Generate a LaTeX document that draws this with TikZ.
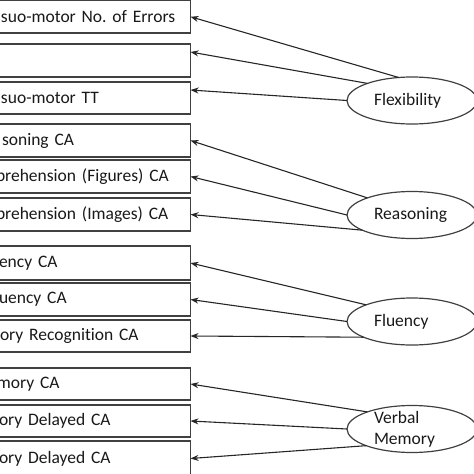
\documentclass[tikz,border=0pt]{standalone}
\usepackage{fontspec}
\setmainfont{Carlito}[Ligatures=NoCommon]
\frenchspacing
\usetikzlibrary{shapes.geometric,arrows.meta}
\tikzset{vbox/.style={draw=black!75,line width=1.3pt,fill=white,inner xsep=12pt,inner ysep=0pt,outer sep=0pt,align=left,anchor=north east,text=black!90,font=\fontsize{17.5}{21}\selectfont}}
\tikzset{factor/.style={draw=black!75,line width=1.2pt,ellipse,inner sep=0pt,outer sep=0pt,minimum width=130pt,minimum height=47pt,text width=76pt,align=left,text=black!90,font=\fontsize{17.5}{21}\selectfont}}
\tikzset{link/.style={draw=black!85,line width=1.1pt,-{Stealth[length=8pt,width=6pt]}}}

\begin{document}
\begin{tikzpicture}[x=1pt,y=-1pt]
  \useasboundingbox (0,0) rectangle (474,474);
  \clip (0,0) rectangle (474,474);

  % observed measures
  \foreach \name/\ytop/\ybot/\xs/\txt in {
      b1/0.5/33/1/{suo-motor No. of Errors},
      b2/44/77/1/{},
      b3/82/114/1/{suo-motor TT},
      b4/124/157/2/{soning CA},
      b5/160/193/-4/{prehension (Figures) CA},
      b6/198/231/-4/{prehension (Images) CA},
      b7/246/280/-1/{ency CA},
      b8/283/316/-1/{uency CA},
      b9/320/352/0/{ory Recognition CA},
      b10/368/400/-3/{mory CA},
      b11/405/437/-1/{ory Delayed CA},
      b12/441/476/-1/{ory Delayed CA}}{
    \node[vbox,minimum height={(\ybot-\ytop)*1pt},text width={(178.5-(\xs))*1pt}] (\name) at (190.5,\ytop) {\txt};
  }

  % latent factors
  \node[factor] (flex) at (412,100.5) {Flexibility};
  \node[factor] (reas) at (412,215) {Reasoning};
  \node[factor] (flu) at (412,321.5) {Fluency};
  \node[factor,inner ysep=-6pt] (vmem) at (412,429) {Verbal\\Memory};

  \foreach \f/\a/\b/\s in {flex/120/b1/0pt, flex/159/b2/8.5pt, flex/180/b3/8pt,
      reas/159/b4/0pt, reas/180/b5/0pt, reas/197/b6/0pt,
      flu/160/b7/0pt, flu/180/b8/0pt, flu/198/b9/0pt,
      vmem/159/b10/0pt, vmem/180/b11/0pt, vmem/200/b12/0pt}{
    \draw[link] (\f.\a) -- ([yshift=\s]\b.east);
  }
\end{tikzpicture}
\end{document}
